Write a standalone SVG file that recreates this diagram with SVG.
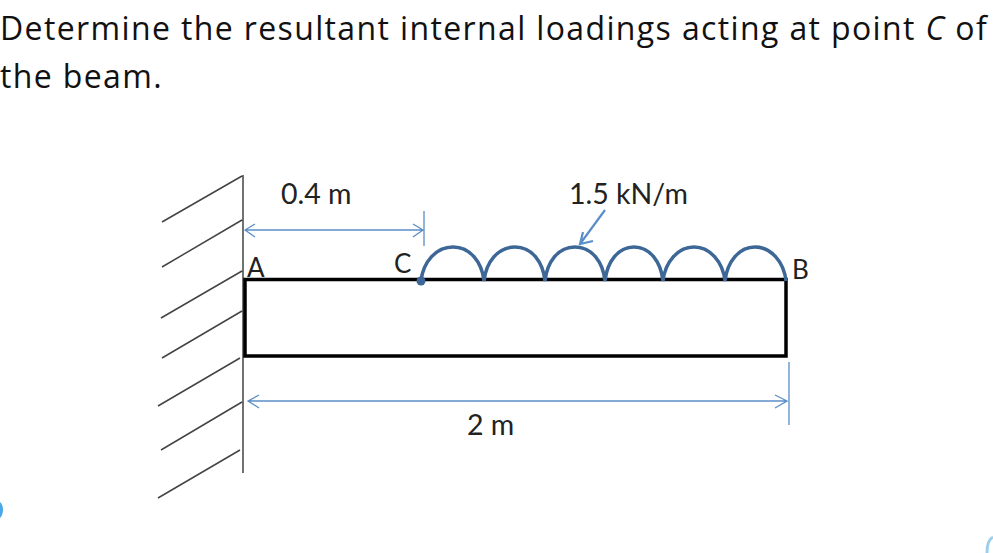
<svg xmlns="http://www.w3.org/2000/svg" width="993" height="553" viewBox="0 0 993 553">
<style>
.t{font-family:"Open Sans","Noto Sans",sans-serif;font-size:32px;fill:#111;letter-spacing:1.37px}
.l{font-family:"Lato","Noto Sans",sans-serif;font-size:28.5px;fill:#222}
.s{font-family:"Lato","Noto Sans",sans-serif;font-size:26px;fill:#222}
.h{stroke:#444;stroke-width:1.5;fill:none}
.d{stroke:#5b8dc8;stroke-width:1.3;fill:none}
.a{stroke:#3c6796;stroke-width:3.5;fill:none}
</style>
<rect width="993" height="553" fill="#fff"/>
<text class="t" x="0" y="40">Determine the resultant internal loadings acting at point <tspan font-style="italic">C</tspan> of</text>
<text class="t" x="0" y="88">the beam.</text>
<g id="wall"><path class="h" d="M243 175V473M162 222L242 176M162 267L242 220M161 318L242 271M162 358L242 311M158 406L240 358M161 450L242 402M158 498L240 450"/></g>
<g id="beam"><rect x="245" y="279.5" width="541" height="76.5" fill="none" stroke="#000" stroke-width="3.5"/></g>
<g id="connectors">
<path class="d" d="M245 230H423M424 211V246M255 224L245 230L255 237M413 224L423 230L413 237"/>
<path class="d" d="M248 401H787M789 362V425M259 395L248 401L259 408M775 395L787 401L775 408"/>
<path d="M605 210L580 244M583 232L580 244L593 241" fill="none" stroke="#5b8dc8" stroke-width="2.2"/>
</g>
<g id="load"><path class="a" d="M421 281C423 262 436 247 453 247C470 247 482 262 484 281C486 262 498 247 515 247C532 247 543 262 545 281C547 262 558 247 575 247C592 247 603 262 605 281C607 262 618 247 634 247C650 247 661 262 663 281C665 262 678 247 694 247C710 247 723 262 725 281C727 262 739 247 755 247C771 247 784 262 786 281"/><circle cx="421" cy="281" r="4.5" fill="#3c6796"/></g>
<g id="labels">
<text class="l" x="281" y="204">0.4 m</text>
<text class="l" x="569" y="204">1.5 kN/m</text>
<text class="l" x="467" y="435">2 m</text>
<text class="s" x="247" y="277">A</text>
<text class="s" x="394" y="273">C</text>
<text class="s" x="792" y="279">B</text>
</g>
<path d="M0 502C4 505 4 514 0 518Z" fill="#4aa8e8"/>
<path d="M987 553C987 544 989 539 993 537" fill="none" stroke="#9cd0ea" stroke-width="3"/>
</svg>
